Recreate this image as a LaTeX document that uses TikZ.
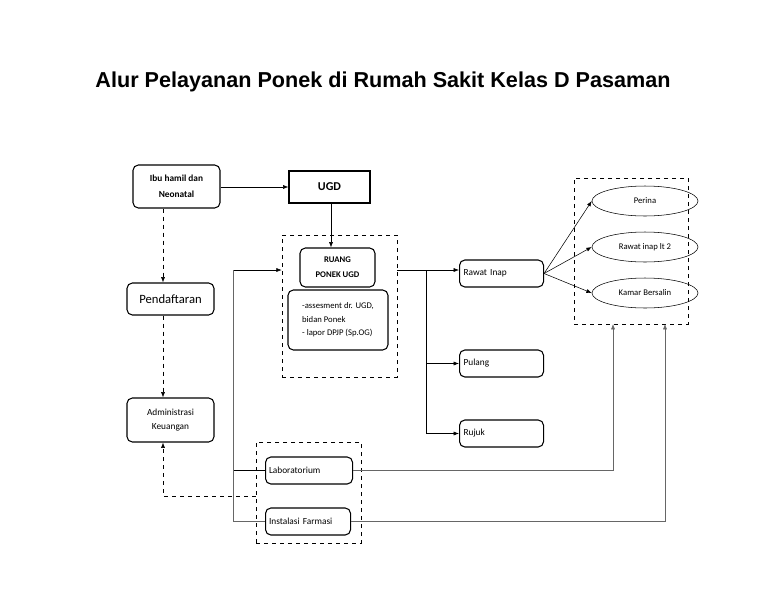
\documentclass[tikz,border=0pt]{standalone}
\usepackage{fontspec}
\setmainfont{Carlito}
\newfontfamily\titlefont{Liberation Sans}
\usetikzlibrary{shapes.geometric,arrows.meta}
\begin{document}
\begin{tikzpicture}[x=0.75pt,y=-0.75pt,
  rbox/.style={draw,rounded corners=4pt,thick,align=center,font=\fontsize{7}{11}\selectfont,inner sep=0pt},
  sbox/.style={draw,thick,align=center,inner sep=0pt},
  dbox/.style={draw,dashed,inner sep=0pt},
  ell/.style={draw,ellipse,font=\fontsize{6.5}{8}\selectfont,inner sep=0pt},
  arr/.style={-{Latex[length=4pt,width=3pt]}},
  darr/.style={dashed,-{Latex[length=4pt,width=3pt]}},
  gline/.style={draw=black!60}]
\useasboundingbox (0,0) rectangle (768,594);
\node[font=\titlefont\bfseries\fontsize{16.2}{19}\selectfont] (title) at (383,82) {Alur Pelayanan Ponek di Rumah Sakit Kelas D Pasaman};
\node[rbox,minimum width=87*0.75pt,minimum height=43*0.75pt,font=\bfseries\fontsize{7}{12}\selectfont] (ibu) at (176.5,186.5) {Ibu hamil dan\\Neonatal};
\node[sbox,minimum width=81*0.75pt,minimum height=32*0.75pt,font=\bfseries\fontsize{9}{11}\selectfont] (ugd) at (329.5,187) {UGD};
\node[dbox,minimum width=115*0.75pt,minimum height=142*0.75pt] (pbox) at (339.5,306) {};
\node[rbox,minimum width=75*0.75pt,minimum height=39*0.75pt,font=\bfseries\fontsize{6.5}{11}\selectfont] (ruang) at (337.5,267.5) {RUANG\\PONEK UGD};
\node[rbox,minimum width=100*0.75pt,minimum height=60*0.75pt,align=left,font=\fontsize{6.5}{10}\selectfont] (ases) at (338,320) {-assesment dr. UGD,\\bidan Ponek\\- lapor DPJP (Sp.OG)};
\node[rbox,minimum width=87*0.75pt,minimum height=32*0.75pt,font=\fontsize{9.5}{11}\selectfont] (daftar) at (170.5,299) {Pendaftaran};
\node[rbox,minimum width=87*0.75pt,minimum height=44*0.75pt] (adm) at (170.5,420) {Administrasi\\Keuangan};
\node[rbox,minimum width=84*0.75pt,minimum height=27*0.75pt,anchor=west,text width=76*0.75pt,align=left] (rawat) at (459,273.5) {Rawat Inap};
\node[rbox,minimum width=84*0.75pt,minimum height=27*0.75pt,anchor=west,text width=76*0.75pt,align=left] (pulang) at (459,363.5) {Pulang};
\node[rbox,minimum width=84*0.75pt,minimum height=27*0.75pt,anchor=west,text width=76*0.75pt,align=left] (rujuk) at (459,433.5) {Rujuk};
\node[dbox,minimum width=114*0.75pt,minimum height=146*0.75pt] (rbox2) at (631,251) {};
\node[ell,minimum width=106*0.75pt,minimum height=30*0.75pt] (perina) at (645,201) {Perina};
\node[ell,minimum width=106*0.75pt,minimum height=30*0.75pt] (lt2) at (645,247) {Rawat inap lt 2};
\node[ell,minimum width=106*0.75pt,minimum height=30*0.75pt] (kamar) at (645,293) {Kamar Bersalin};
\node[dbox,minimum width=105*0.75pt,minimum height=101*0.75pt] (lbox) at (308.5,492.5) {};
\node[rbox,minimum width=87*0.75pt,minimum height=27*0.75pt,anchor=west,text width=80*0.75pt,align=left] (lab) at (265,470.5) {Laboratorium};
\node[rbox,minimum width=85*0.75pt,minimum height=27*0.75pt,anchor=west,text width=78*0.75pt,align=left] (inst) at (265,521.5) {Instalasi Farmasi};
\coordinate (j1) at (426,270);
\coordinate (lx) at (233,270);
\coordinate (cx) at (163,0);
\coordinate (ux) at (331,0);
\draw[arr] (ibu.east|-ugd) -- (ugd.west);
\draw[arr] (ux|-ugd.south) -- (ux|-ruang.north);
\draw[darr] (cx|-ibu.south) -- (cx|-daftar.north);
\draw[darr] (cx|-daftar.south) -- (cx|-adm.north);
\draw[arr] (pbox.east|-j1) -- (rawat.west|-j1);
\draw[arr] (j1) |- (pulang.west);
\draw[arr] (j1) |- (rujuk.west);
\draw[arr] (rawat.east) -- (perina.west);
\draw[arr] (rawat.east) -- (lt2.west);
\draw[arr] (rawat.east) -- (kamar.west);
\draw[arr] (lab.west) -| (lx) -- (pbox.west|-lx);
\draw[gline] (inst.west) -| (lx);
\draw[gline,arr] (lab.east) -| (613,324);
\draw[gline,arr] (inst.east) -| (665,324);
\draw[darr] (lbox.west|-0,496) -| (cx|-adm.south);
\end{tikzpicture}
\end{document}
